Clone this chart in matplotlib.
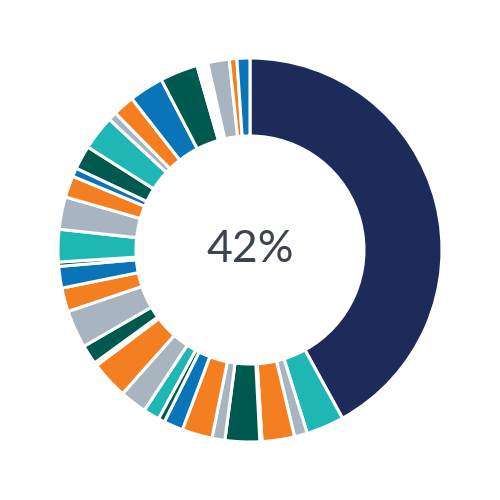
import numpy as np
import matplotlib.pyplot as plt

navy = '#1c2b5a'
teal = '#1fb7b4'
grey = '#a9b4c1'
orange = '#f47f20'
blue = '#0a74b8'
green = '#00594f'

main_share = 42
# remaining segments, clockwise after the main one
other_shares = [3.5, 1.2, 3, 0.2, 3.2, 1.2, 2.8, 1.8, 0.6, 1.5, 2.5, 3.5, 0.3, 1.8,
                3.5, 2.2, 2, 0.4, 3, 3, 2, 0.8, 2.2, 3.2, 0.8, 2, 3.2, 3.5, 1.0, 2, 0.7, 1.2]
other_colors = [teal, grey, orange, blue, green, grey, orange, blue, green, teal, grey, orange, blue, green,
                grey, orange, blue, green, teal, grey, orange, blue, green, teal, grey, orange, blue, green,
                'white', grey, orange, blue]

others = np.array(other_shares) / sum(other_shares) * (100 - main_share)
values = [main_share] + list(others)
colors = [navy] + other_colors

fig, ax = plt.subplots(figsize=(5, 5), dpi=100)
fig.subplots_adjust(0, 0, 1, 1)
ax.pie(values, colors=colors, startangle=90, counterclock=False, radius=0.96,
       wedgeprops=dict(width=0.39, edgecolor='white', linewidth=2.2))
ax.text(0, 0, f'{main_share}%', ha='center', va='center', fontsize=32, color='#3d4450', family='Lato')
ax.set_xlim(-1.25, 1.25)
ax.set_ylim(-1.25, 1.25)
ax.set_aspect('equal')
plt.savefig('out.png', dpi=100)
